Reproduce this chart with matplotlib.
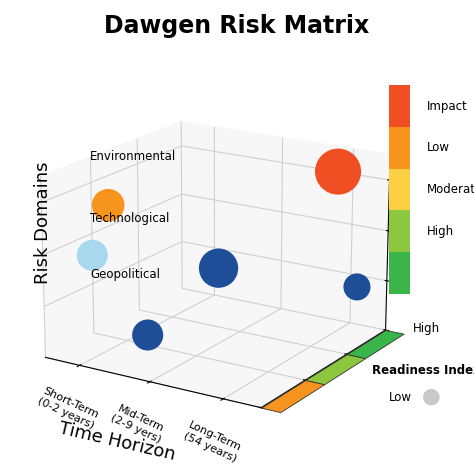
import matplotlib
matplotlib.use("Agg")
import matplotlib.pyplot as plt
import numpy as np
from mpl_toolkits.mplot3d.art3d import Poly3DCollection

time_labels = ["Short-Term\n(0-2 years)", "Mid-Term\n(2-9 yers)", "Long-Term\n(54 years)"]
domain_labels = ["Environmental", "Technological", "Geopolitical"]
bx = [0.6, 0.5, 1.5, 2.8, 2.4, 0.8]
by = [0.5, 0.3, 1.5, 2.6, 2.8, 1.0]
bz = [2.9, 2.0, 1.5, 1.0, 3.1, 0.2]
bsize = [550, 500, 800, 380, 1100, 500]
bcol = ["#f7941d", "#a8d8ee", "#1f4e99", "#1f4e99", "#f04e23", "#1f4e99"]
scale_labels = ["Impact", "Low", "Moderate", "High", ""]
scale_cols = ["#f04e23", "#f7941d", "#fdd043", "#8dc63f", "#39b54a"]
strip = ["#f7941d", "#8dc63f", "#39b54a"]

fig = plt.figure(figsize=(4.74, 4.74), dpi=100)
ax = fig.add_axes([0.04, 0.0, 0.82, 0.9], projection="3d")
ax.view_init(elev=18, azim=-58)
ax.set_xlim(0, 3); ax.set_ylim(0, 3); ax.set_zlim(0, 3.5)
for a in (ax.xaxis, ax.yaxis, ax.zaxis):
    a.set_pane_color((0.97, 0.97, 0.97, 1))
    a._axinfo["grid"]["color"] = "#d0d0d0"
ax.set_xticks([0.5, 1.5, 2.5])
ax.set_xticklabels(time_labels, fontsize=8, rotation=-25)
ax.set_yticks([0, 1, 2, 3]); ax.set_yticklabels([])
ax.set_zticks([1.0, 2.0, 3.0]); ax.set_zticklabels([])
ax.set_xlabel("Time Horizon", fontsize=13, labelpad=12)
ax.scatter(bx, by, bz, s=bsize, c=bcol, depthshade=False, alpha=1, edgecolors="none")
for i, c in enumerate(strip):
    poly = [[(3, i, 0), (3.25, i, 0), (3.25, i + 1, 0), (3, i + 1, 0)]]
    ax.add_collection3d(Poly3DCollection(poly, facecolors=c, edgecolors="#333333", linewidths=0.6))

fig.text(0.5, 0.93, "Dawgen Risk Matrix", ha="center", fontsize=17, fontweight="bold")
fig.text(0.09, 0.53, "Risk Domains", rotation=90, ha="center", va="center", fontsize=13)
for y, l in zip([0.67, 0.54, 0.42], domain_labels):
    fig.text(0.19, y, l, fontsize=8.5, va="center")

cax = fig.add_axes([0.82, 0.38, 0.045, 0.44])
for i, (c, l) in enumerate(zip(scale_cols, scale_labels)):
    cax.bar(0, 1, bottom=i, color=c, width=1, edgecolor="none")
    cax.text(1.3, i + 0.5, l, va="center", fontsize=8.5)
cax.set_xlim(-0.5, 0.5); cax.set_ylim(0, 5); cax.invert_yaxis()
cax.axis("off")
fig.text(0.87, 0.30, "High", fontsize=8.5)
fig.text(0.785, 0.21, "Readiness Index", fontsize=8.5, fontweight="bold")
fig.text(0.82, 0.155, "Low", fontsize=8.5)
fig.patches.append(plt.Circle((0.91, 0.162), 0.016, color="#c8c8c8", transform=fig.transFigure))
fig.savefig("out.png", dpi=100, facecolor="white")
